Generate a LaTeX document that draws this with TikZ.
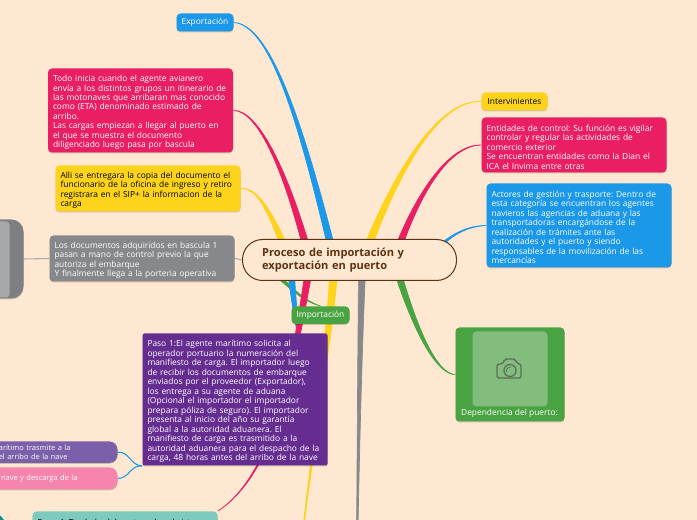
\documentclass[tikz,border=0pt]{standalone}
\usepackage{fontspec}
\setmainfont{Open Sans}
\usetikzlibrary{calc,shadows}
\pgfdeclarelayer{branch}
\pgfsetlayers{branch,main}

\definecolor{paper}{RGB}{254,232,210}
\definecolor{bluemap}{RGB}{27,152,232}
\definecolor{redmap}{RGB}{233,30,99}
\definecolor{yellowmap}{RGB}{253,211,28}
\definecolor{greenmap}{RGB}{74,163,66}
\definecolor{graymap}{RGB}{135,136,140}
\definecolor{purplemap}{RGB}{102,45,145}
\definecolor{brownmap}{RGB}{93,50,17}

\tikzset{every picture/.style={line width=0.75pt}}
\tikzset{
  softshadow/.style={drop shadow={shadow xshift=0pt,shadow yshift=-0.7pt,opacity=0.18,fill=black}},
  note/.style={softshadow,anchor=north west,rounded corners=3pt,align=left,text width=131.25pt,inner xsep=3.75pt,inner ysep=0pt,text=white,font=\fontsize{6.3}{7.1}\selectfont\frenchspacing},
  tag/.style={softshadow,anchor=north west,rounded corners=3pt,inner xsep=0pt,inner ysep=0pt,text=white,font=\fontsize{6.3}{7.1}\selectfont},
  pill/.style={note,align=right,rounded corners=6pt,text width=102.75pt,font=\fontsize{5.6}{7.1}\selectfont\frenchspacing},
  thinline/.style={line width=0.8pt,draw=#1}
}
\newcommand{\topgap}{\rule{0pt}{7.8pt}}
% tapered branch: colour, far end, two controls, root end, half width, shift of first control
\newcommand{\branch}[7]{
  \filldraw [#1,line width=0.5pt] (#2) .. controls ($(#3)+(#7)$) and ($(#4)+(-0.6*#6,0)$) .. ($(#5)+(-#6,0)$) -- ($(#5)+(#6,0)$) .. controls ($(#4)+(0.6*#6,0)$) and ($(#3)-(#7)$) .. (#2) -- cycle ;
}

\begin{document}
\begin{tikzpicture}[x=0.75pt,y=0.75pt,yscale=-1,xscale=1]
\useasboundingbox (0,0) rectangle (697,520);

% Text Node
\node (export) [tag,fill=bluemap,minimum width=42.75pt,minimum height=13.5pt] at (176,13) {Exportación};
\node (todo) [note,fill=redmap,minimum height=63pt] at (47.5,68) {\topgap Todo inicia cuando el agente avianero\\envía a los distintos grupos un itinerario de\\las motonaves que arribaran mas conocido\\como (ETA) denominado estimado de\\arribo.\\Las cargas empiezan a llegar al puerto en\\el que se muestra el documento\\diligenciado luego pasa por bascula};
\node (alli) [note,fill=yellowmap,text=black,minimum height=34.5pt] at (55,165) {\topgap Alli se entregara la copia del documento el\\funcionario de la oficina de ingreso y retiro\\registrara en el SIP+ la informacion de la\\carga};
\node (docs) [note,fill=graymap,minimum height=34.5pt] at (49,235) {\topgap Los documentos adquiridos en bascula 1\\pasan a mano de control previo la que\\autoriza el embarque\\Y finalmente llega a la porteria operativa};
\node (root) [anchor=north west,draw=brownmap,fill=paper,rounded corners=15pt,minimum width=160.5pt,minimum height=30.75pt,inner xsep=14.5pt,inner ysep=0pt,text width=131pt,align=left,text=brownmap,font=\fontsize{8.3}{9.4}\selectfont\bfseries] at (242,239) {Proceso de importación y\\exportación en puerto};
\node (import) [tag,fill=greenmap,minimum width=43.5pt,minimum height=13pt] at (291,306) {Importación};
\node (paso) [note,fill=purplemap,rounded corners=1.5pt,minimum height=99pt] at (142,333) {\topgap Paso 1:El agente marítimo solicita al\\operador portuario la numeración del\\manifiesto de carga. El importador luego\\de recibir los documentos de embarque\\enviados por el proveedor (Exportador),\\los entrega a su agente de aduana\\(Opcional el importador el importador\\prepara póliza de seguro). El importador\\presenta al inicio del año su garantía\\global a la autoridad aduanera. El\\manifiesto de carga es trasmitido a la\\autoridad aduanera para el despacho de la\\carga, 48 horas antes del arribo de la nave};
\node (agente) [pill,fill={rgb,255:red,123;green,95;blue,169},minimum height=16pt] at (-30,441) {marítimo trasmite a la\rule{31.5pt}{0pt}\\el arribo de la nave\rule{33.75pt}{0pt}};
\node (nave) [pill,fill={rgb,255:red,245;green,132;blue,175},minimum height=16.5pt] at (-30,467) {nave y descarga de la\rule{26.25pt}{0pt}};
\node (traslado) [note,fill={rgb,255:red,125;green,203;blue,190},text=black,text depth=10pt,inner ysep=5.5pt] at (32,511) {Paso 4: Traslado del contenedor al sistema};
\node (tealdot) [circle,fill={rgb,255:red,0;green,150;blue,136},minimum size=24pt,inner sep=0pt] at (-10,528) {};
\node (inter) [tag,fill=yellowmap,text=black,minimum width=49.5pt,minimum height=13.5pt] at (481,92) {Intervinientes};
\node (control) [note,fill=redmap,minimum height=41.25pt] at (481,117) {\topgap Entidades de control: Su función es vigilar\\controlar y regular las actividades de\\comercio exterior\\Se encuentran entidades como la Dian el\\ICA el Invima entre otras};
\node (actores) [note,fill=bluemap,minimum height=63pt] at (486,183) {\topgap Actores de gestión y trasporte: Dentro de\\esta categoría se encuentran los agentes\\navieros las agencias de aduana y las\\transportadoras encargándose de la\\realización de trámites ante las\\autoridades y el puerto y siendo\\responsables de la movilización de las\\mercancías};
\node (puerto) [softshadow,anchor=north west,fill=greenmap,rounded corners=3pt,minimum width=81.75pt,minimum height=70.5pt] at (455,327) {};
\node (photo) [anchor=north west,fill={rgb,255:red,131;green,189;blue,125},rounded corners=3pt,minimum width=56.25pt,minimum height=56.25pt] at (472,331) {};
\node (caption) [text=white,inner sep=0pt,font=\fontsize{6.3}{7.1}\selectfont] at (509.5,413) {Dependencia del puerto:};
\node (grande) [softshadow,anchor=north east,fill={rgb,255:red,125;green,127;blue,131},rounded corners=9pt,minimum width=45pt,minimum height=59.25pt] at (24,219) {};
\node (grandefoto) [anchor=north east,fill={rgb,255:red,166;green,168;blue,172},rounded corners=2.5pt,minimum width=30pt,minimum height=57pt] at (10,221) {};

%Shape: Camera
\draw [draw={rgb,255:red,93;green,112;blue,92},line width=1pt,rounded corners=1.5pt] (497,364) -- (503,364) -- (504.5,359) -- (515.5,359) -- (517,364) -- (521,364) -- (521,378) -- (497,378) -- cycle ;
\draw [draw={rgb,255:red,93;green,112;blue,92},line width=1pt] (510,370.5) circle [x radius=6, y radius=6];
\draw [draw={rgb,255:red,93;green,112;blue,92},line width=0.6pt] (506,372) .. controls (506,369) and (508,367) .. (510.5,367);

\begin{pgfonlayer}{branch}
\fill [paper] (0,0) rectangle (697,520);
\coordinate (rootexport) at (331,246);
\coordinate (roottodo) at (306,246);
\coordinate (rootalli) at (284,246);
\coordinate (rootinter) at (368,246);
\coordinate (rootcontrol) at (399,246);
\coordinate (rootactores) at (440,246);
\coordinate (rootdep) at (397,270);
\coordinate (rootimport) at (272,272);
\coordinate (downblue) at (291,270);
\coordinate (downred) at (309,270);
\coordinate (downyellow) at (334,270);
\coordinate (downgray) at (362,270);
\coordinate (endblue) at (300,350);
\coordinate (endyellow) at (298,570);
\coordinate (endgray) at (356,640);
%Curve Lines
\branch{greenmap}{import.north}{300,300}{290,285}{rootimport}{3}{-0.6,0.6}
\branch{bluemap}{endblue}{297,320}{293,300}{downblue}{3.5}{-2,0}
\branch{bluemap}{export.east}{270,25}{300,120}{rootexport}{3.5}{0,0.8}
\branch{redmap}{todo.east}{258,110}{285,170}{roottodo}{3.5}{0,0.8}
\branch{yellowmap}{alli.east}{258,188}{270,212}{rootalli}{3.5}{0,0.8}
\branch{yellowmap}{inter.west}{440,100}{400,165}{rootinter}{4}{0,-0.8}
\branch{redmap}{control.west}{450,145}{420,190}{rootcontrol}{3.5}{0,-0.8}
\branch{bluemap}{actores.west}{470,226}{455,232}{rootactores}{2}{0,-0.6}
\branch{greenmap}{puerto.west}{440,374}{420,345}{rootdep}{3.5}{0,0.8}
\branch{redmap}{traslado.north east}{280,470}{295,350}{downred}{3.5}{-0.8,0}
\branch{yellowmap}{endyellow}{315,430}{328,350}{downyellow}{4}{-1,0}
\branch{graymap}{endgray}{358,450}{360,350}{downgray}{3.5}{-1,0}
%Straight Lines
\draw [thinline=graymap!70!white] (grande.east) -- (docs.west);
\draw [thinline=graymap!70!white] (docs.east) -- (root.west);
%Curve Lines
\draw [thinline=bluemap] (paso.south west) .. controls (130,465) and (130,452) .. (agente.east);
\draw [thinline=bluemap] (paso.south west) .. controls (130,465) and (130,478) .. (nave.east);
\end{pgfonlayer}

\end{tikzpicture}
\end{document}
